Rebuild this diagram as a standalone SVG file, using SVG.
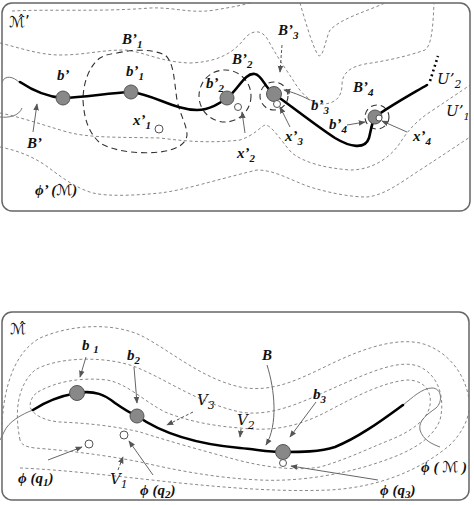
<svg xmlns="http://www.w3.org/2000/svg" width="474" height="505" viewBox="0 0 474 505">
<defs>
<style>
.panel{fill:none;stroke:#666;stroke-width:1.5}
.cont{fill:none;stroke:#7a7a7a;stroke-width:0.9;stroke-dasharray:3 2.5}
.reg{fill:none;stroke:#333;stroke-width:1.1;stroke-dasharray:6 4}
.thick{fill:none;stroke:#000;stroke-width:2.6;stroke-linecap:round}
.thin{fill:none;stroke:#777;stroke-width:1}
.arr{fill:none;stroke:#666;stroke-width:1;marker-end:url(#ah)}
.darr{fill:none;stroke:#555;stroke-width:1;stroke-dasharray:3 2;marker-end:url(#ah)}
.pt{fill:#888;stroke:#555;stroke-width:1}
.wp{fill:#fff;stroke:#555;stroke-width:1}
text{font-family:"Liberation Serif","DejaVu Serif",serif;font-weight:bold;font-style:italic;font-size:15px;fill:#111}
.sub{font-size:11px}
.cal{font-family:"DejaVu Serif","Liberation Serif",serif;font-weight:normal;font-style:italic}
.mm{font-family:"DejaVu Sans","Noto Sans",sans-serif;font-weight:normal;font-style:normal;font-size:15px}
</style>
<marker id="ah" viewBox="0 0 10 10" refX="9" refY="5" markerWidth="7" markerHeight="7" orient="auto" markerUnits="userSpaceOnUse">
<path d="M0,1 L10,5 L0,9 Z" fill="#555"/>
</marker>
</defs>

<!-- TOP PANEL -->
<g id="top-panel">
<rect class="panel" x="2" y="3" width="468" height="208" rx="10"/>
<g id="top-contours">
<path class="cont" d="M12,11 C50,9 100,12 150,8 C175,7 190,14 215,10 C232,7 245,5 252,2"/>
<path class="cont" d="M300,3 C305,20 312,45 318,55 C323,60 325,40 330,30 C342,18 365,12 385,3"/>
<path class="cont" d="M0,43 C20,48 40,55 60,55 C85,55 100,50 125,50 C145,52 160,62 190,63 C215,62 232,55 245,38 C252,30 262,29 268,40 C276,55 285,68 293,80 C300,92 310,103 322,104 C335,104 342,97 342,85 C342,73 350,67 365,64 C385,61 405,57 425,50 C432,45 433,25 434,3"/>
<path class="cont" d="M0,113 C20,117 40,124 67,132 C90,138 115,137 160,138 C190,142 215,143 240,140 C255,135 260,127 265,125 C272,125 280,140 292,153 C305,163 325,168 350,170 C372,170 390,158 400,143 C407,132 415,122 430,112 C445,102 460,92 470,85"/>
<path class="cont" d="M0,147 C15,150 30,155 45,165 C60,176 75,188 93,193 C110,197 140,195 160,193 C185,190 215,180 257,170 C275,170 290,180 310,187 C330,193 350,197 367,197 C385,195 400,183 420,170 C440,157 455,147 470,137"/>
</g>
<path class="thin" d="M20,83 C13,76 5,75 2,82"/>
<path class="thin" d="M0,117 C9,118 19,116 22,108"/>
</g>

<g id="B1-region"><path class="reg" d="M117,53 C130,50 150,48 165,55 C174,62 174,80 177,100 C180,115 187,125 187,135 C186,145 175,150 160,152 C140,154 115,152 100,143 C88,132 84,118 83,100 C83,82 90,65 100,58 C105,55 110,54 117,53 Z"/></g>
<g id="B2-region"><circle class="reg" cx="225" cy="96" r="26"/></g>
<g id="B3-region"><circle class="reg" cx="274" cy="96" r="14"/></g>
<g id="B4-region"><circle class="reg" cx="377" cy="117" r="12"/></g>

<g id="curve-Bp">
<path class="thick" d="M20,82 C35,92 48,97 63,98 C85,97 110,93 131,92 C155,95 175,110 197,110 C210,110 220,103 227,98 C238,90 245,72 255,74 C262,75 265,88 274,94 C290,105 315,125 335,138 C350,147 365,150 369,138 C371,130 372,122 375,117 C390,106 410,95 427,85"/>
<path d="M430,81 L438,56" fill="none" stroke="#000" stroke-width="2.6" stroke-dasharray="2 3"/>
</g>

<g id="node-bp"><circle class="pt" cx="63" cy="98" r="7"/><text x="57" y="80">b’</text></g>
<g id="node-bp1"><circle class="pt" cx="131" cy="92" r="7"/><text x="126" y="76">b’<tspan class="sub" dy="4">1</tspan></text></g>
<g id="node-bp2"><circle class="pt" cx="227" cy="98" r="7"/><text x="206" y="88">b’<tspan class="sub" dy="4">2</tspan></text></g>
<g id="node-bp3"><circle class="pt" cx="274" cy="94" r="7.5"/><text x="311" y="110">b’<tspan class="sub" dy="4">3</tspan></text></g>
<g id="node-bp4"><circle class="pt" cx="375" cy="117" r="7"/><text x="329" y="129">b’<tspan class="sub" dy="4">4</tspan></text></g>
<g id="node-xp1"><circle class="wp" cx="159" cy="129" r="4"/><text x="133" y="125">x’<tspan class="sub" dy="4">1</tspan></text></g>
<g id="node-xp2"><circle class="wp" cx="238" cy="107" r="3.5"/><text x="237" y="158">x’<tspan class="sub" dy="4">2</tspan></text></g>
<g id="node-xp3"><circle class="wp" cx="277" cy="104" r="3.5"/><text x="285" y="141">x’<tspan class="sub" dy="4">3</tspan></text></g>
<g id="node-xp4"><circle class="wp" cx="379" cy="118" r="3"/><text x="413" y="141">x’<tspan class="sub" dy="4">4</tspan></text></g>

<g id="top-labels">
<text x="9" y="27" class="mm">ℳ̂’</text>
<text x="122" y="44">B’<tspan class="sub" dy="4">1</tspan></text>
<text x="232" y="64">B’<tspan class="sub" dy="4">2</tspan></text>
<text x="278" y="35">B’<tspan class="sub" dy="4">3</tspan></text>
<text x="353" y="92">B’<tspan class="sub" dy="4">4</tspan></text>
<text x="27" y="148">B’</text>
<text x="35" y="195">ϕ’ (<tspan class="mm" font-size="14">ℳ</tspan>)</text>
<text x="437" y="84" class="cal" font-size="13">U’<tspan class="sub" dy="4">2</tspan></text>
<text x="446" y="116" class="cal" font-size="12">U’<tspan font-size="10" dy="4">1</tspan></text>
</g>

<g id="top-connectors">
<path class="arr" d="M33,132 L37,104"/>
<path class="arr" d="M310,100 C300,95 292,92 284,90"/>
<path class="arr" d="M290,127 L280,107"/>
<path class="arr" d="M245,133 L242,112"/>
<path class="darr" d="M282,45 L280,72"/>
<path class="arr" d="M347,125 L365,122"/>
<path class="arr" d="M407,132 L382,121"/>
</g>

<!-- BOTTOM PANEL -->
<g id="bottom-panel">
<rect class="panel" x="2" y="312" width="467" height="188" rx="10"/>
<g id="bottom-contours">
<path class="cont" d="M2,425 C4,385 15,352 40,338 C70,325 110,322 140,335 C170,350 200,378 240,387 C275,394 305,376 335,362 C365,348 395,338 420,343 C448,350 466,375 469,400"/>
<path class="cont" d="M20,468 C70,470 130,478 180,483 C230,488 280,492 330,490 C380,487 420,470 450,445 C462,433 468,420 469,410"/>
<path class="cont" d="M20,440 C14,410 18,385 35,370 C55,358 100,355 133,366 C165,378 195,402 240,412 C275,418 310,398 345,383 C375,370 400,360 418,366 C440,375 445,400 440,420 C432,440 410,452 380,462 C345,474 300,482 260,480 C215,478 175,470 140,462 C100,454 60,450 35,448 C25,447 21,444 20,440 Z"/>
<path class="cont" d="M38,392 C55,382 80,377 107,380 C128,384 142,400 165,412 C190,422 215,426 240,428 C275,432 300,426 330,410 C360,394 385,382 407,380 C425,380 432,392 430,405 C428,420 410,432 390,440 C365,450 345,460 320,467 C290,472 255,465 230,458 C200,450 165,440 140,432 C115,426 85,423 60,422 C45,421 33,415 30,407 C30,400 33,395 38,392 Z"/>
</g>
<path class="thin" d="M33,410 C22,414 8,422 4,432 C2,436 1,438 0,440"/>
<path class="thin" d="M403,405 C412,398 422,388 432,388 C442,388 443,402 436,408 C428,414 418,420 420,430 C423,440 432,444 440,447"/>
</g>

<g id="curve-B">
<path class="thick" d="M33,410 C45,402 60,396 77,393 C95,390 105,395 115,403 C125,410 130,413 137,416 C160,432 195,444 240,448 C260,450 270,452 283,452 C300,452 320,452 335,447 C360,437 385,418 403,405"/>
</g>

<g id="node-b1"><circle class="pt" cx="77" cy="393" r="7.5"/><text x="82" y="350">b <tspan class="sub" dy="3">1</tspan></text></g>
<g id="node-b2"><circle class="pt" cx="137" cy="416" r="7"/><text x="127" y="360">b<tspan class="sub" dy="4">2</tspan></text></g>
<g id="node-b3"><circle class="pt" cx="283" cy="452" r="7.5"/><text x="313" y="399">b<tspan class="sub" dy="4">3</tspan></text></g>
<g id="node-q1"><circle class="wp" cx="89" cy="444" r="4"/><text x="18" y="483">ϕ (q<tspan class="sub" dy="3">1</tspan><tspan dy="-3">)</tspan></text></g>
<g id="node-q2"><circle class="wp" cx="124" cy="435" r="4"/><text x="140" y="495">ϕ (q<tspan class="sub" dy="3">2</tspan><tspan dy="-3">)</tspan></text></g>
<g id="node-q3"><circle class="wp" cx="283" cy="463" r="3.5"/><text x="380" y="495">ϕ (q<tspan class="sub" dy="3">3</tspan><tspan dy="-3">)</tspan></text></g>

<g id="bottom-labels">
<text x="10" y="334" class="mm">ℳ̂</text>
<text x="262" y="360">B</text>
<text x="421" y="472">ϕ ( <tspan class="mm" font-size="14">ℳ</tspan> )</text>
<text x="197" y="405" class="cal">V<tspan class="sub" dy="4">3</tspan></text>
<text x="237" y="425" class="cal">V<tspan class="sub" dy="4">2</tspan></text>
<text x="110" y="484" class="cal">V<tspan class="sub" dy="4">1</tspan></text>
</g>

<g id="bottom-connectors">
<path class="arr" d="M86,357 L80,377"/>
<path class="arr" d="M134,367 L137,403"/>
<path class="darr" d="M193,412 L167,425"/>
<path class="darr" d="M241,429 L240,437"/>
<path class="darr" d="M118,470 L123,457"/>
<path class="arr" d="M48,460 L82,447"/>
<path class="arr" d="M153,475 L129,441"/>
<path class="arr" d="M378,480 L291,466"/>
<path class="arr" d="M267,365 C275,390 278,425 266,445"/>
<path class="arr" d="M316,402 L290,437"/>
</g>
</svg>
